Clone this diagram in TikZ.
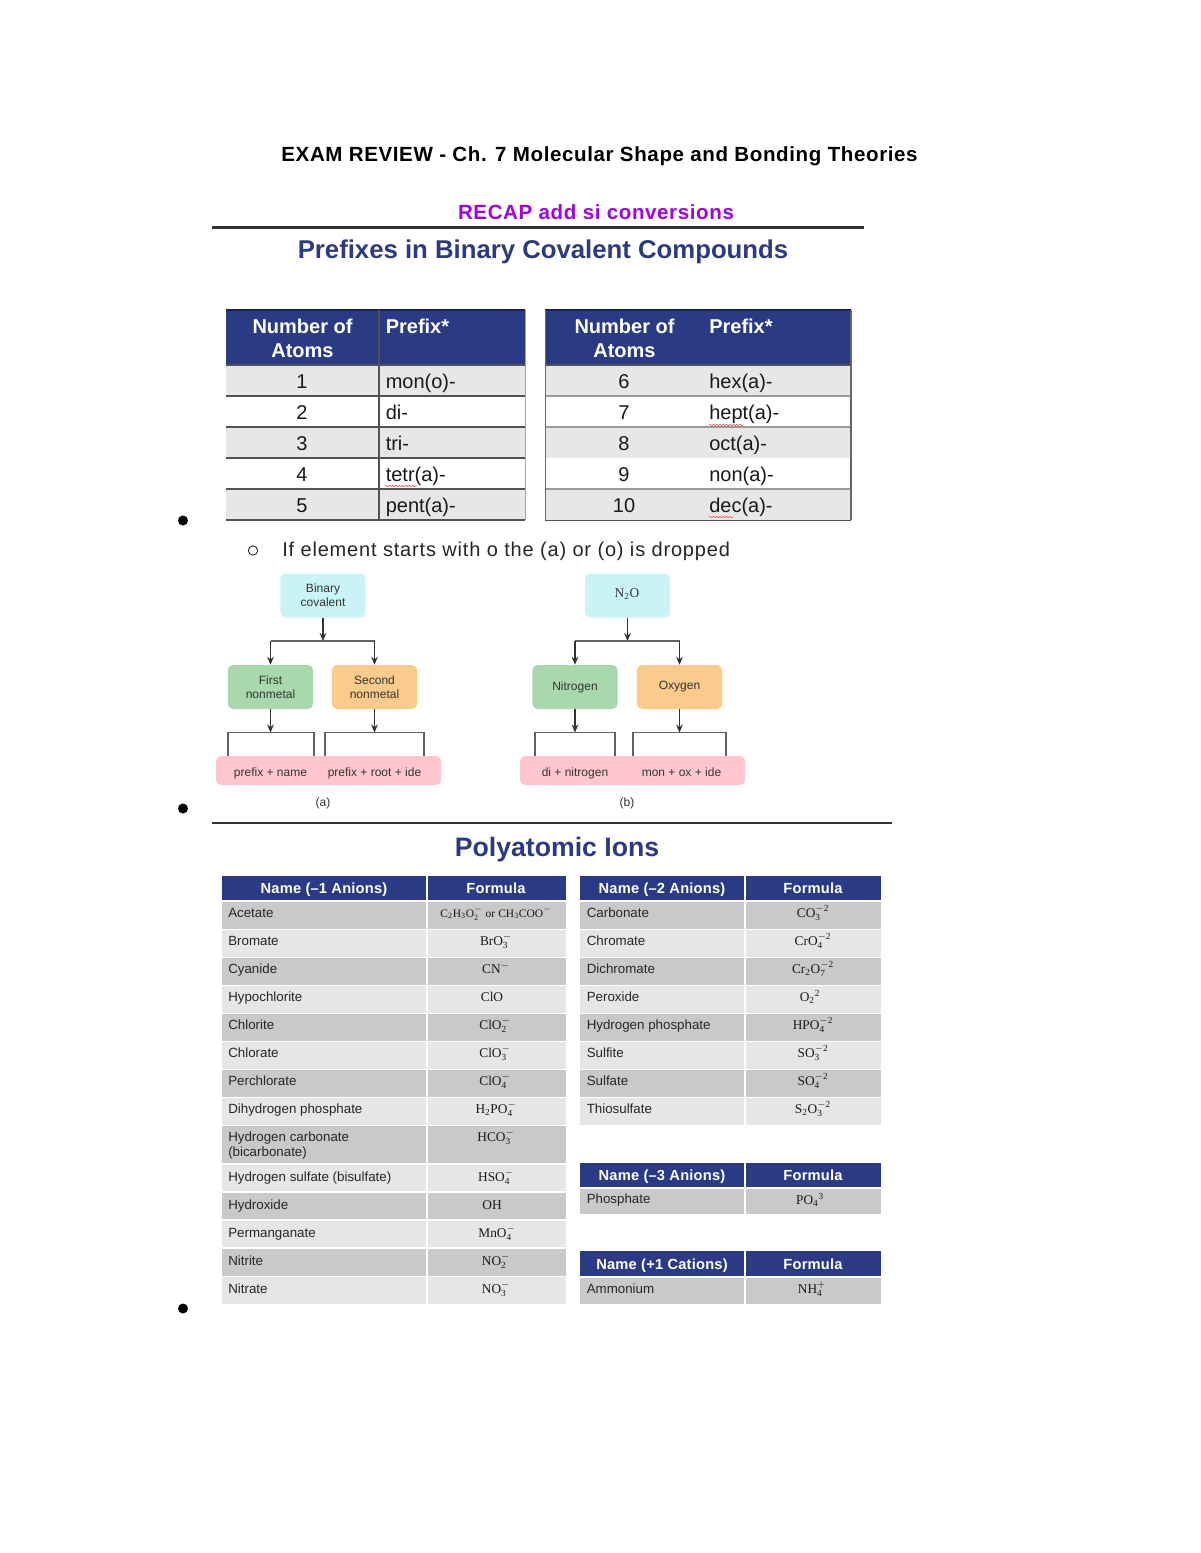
\documentclass[tikz,border=0pt]{standalone}
\usepackage{fontspec}
\setmainfont{Liberation Sans}
\setmathrm{Liberation Serif}
\newfontfamily\spaced[LetterSpace=3]{Liberation Sans}
\newfontfamily\spacednote[LetterSpace=4.1]{Liberation Sans}
\newfontfamily\spacedb[LetterSpace=1.5]{Liberation Sans}
\usetikzlibrary{arrows.meta,decorations.pathmorphing}
\definecolor{navy}{HTML}{2B3A85}
\definecolor{rowg}{HTML}{E8E7E8}
\definecolor{rowd}{HTML}{C9C9C9}
\definecolor{rowl}{HTML}{E6E6E6}
\definecolor{cyanbox}{HTML}{C9F3F5}
\definecolor{greenbox}{HTML}{A8D8AC}
\definecolor{orangebox}{HTML}{FBCB8B}
\definecolor{pinkbox}{HTML}{FFC7CD}
\definecolor{recap}{HTML}{A000F0}
\newcommand{\fm}[1]{$\mathrm{#1}$}
\tikzset{
  hrule/.style={line width=1.9pt,draw=black!80},
  tline/.style={line width=1pt,draw=black!68},
  tlinel/.style={line width=1pt,draw=black!40},
  thead/.style={font=\fontsize{15}{18}\selectfont\bfseries,text=white,align=center,inner sep=0pt},
  tcell/.style={font=\fontsize{15}{17}\selectfont,text=black!90,inner sep=0pt},
  flowbox/.style={rounded corners=4pt,minimum width=64pt,minimum height=33pt,inner sep=0pt,align=center,font=\fontsize{9}{10.5}\selectfont,text=black!80},
  flowtext/.style={font=\fontsize{9}{10}\selectfont,text=black!80,inner sep=0pt,anchor=base},
  conn/.style={line width=.85pt,draw=black!80,-{Stealth[length=6pt,width=5pt]}},
  link/.style={line width=.9pt,draw=black!62},
  phead/.style={font=\fontsize{11}{13}\selectfont\bfseries\spacedb,text=white,inner sep=0pt,anchor=base},
  pname/.style={font=\fontsize{10}{11.6}\selectfont,text=black!85,inner sep=0pt,anchor=base west,align=left},
  pform/.style={font=\fontsize{10}{11}\selectfont,text=black!90,inner sep=0pt,anchor=base},
  squig/.style={draw=red!75,line width=.4pt,decorate,decoration={snake,amplitude=.5pt,segment length=2.5pt}},
  dot/.style={circle,fill=black,inner sep=0pt,minimum size=7.5pt}
}
\begin{document}
\begin{tikzpicture}[x=0.75pt,y=-0.75pt]
\useasboundingbox (0,0) rectangle (1200,1553);
\fill[white] (0,0) rectangle (1200,1553);

% headings
\node[inner sep=0pt,font=\fontsize{15.4}{18}\selectfont\bfseries\spaced] (title) at (599.5,156.5) {EXAM REVIEW - Ch. 7 Molecular Shape and Bonding Theories};
\node[inner sep=0pt,text=recap,font=\fontsize{15.4}{18}\selectfont\bfseries\spaced] (recaptxt) at (596,212) {RECAP add si conversions};
\draw[hrule] (212,227.5) -- (864,227.5);
\node[inner sep=0pt,text=navy,font=\fontsize{19.3}{22}\selectfont\bfseries] (pfxhead) at (543,251.5) {Prefixes in Binary Covalent Compounds};

% prefix table 1
\fill[navy] (226,310) rectangle (525,365);
\foreach \t/\b in {365/396,427/458,489/520}{\fill[rowg] (226,\t) rectangle (525,\b);}
\node[thead] (h1a) at (302.5,338) {Number of\\Atoms};
\node[thead,anchor=base west] (h1b) at (385.5,333) {Prefix*};
\foreach \n/\p [count=\i] in {1/mon(o)-,2/di-,3/tri-,4/tetr(a)-,5/pent(a)-}{
  \node[tcell,anchor=base] (ln\i) at (302,{388+31*(\i-1)}) {\n};
  \node[tcell,anchor=base west] (lp\i) at (385.5,{388+31*(\i-1)}) {\p};
}
\foreach \y in {396,427,458,489}{\draw[tline] (226,\y) -- (525,\y);}
\draw[tline] (226,520) -- (525,520);
\draw[tline,draw=navy!60!black] (226,310) -- (525,310);
\draw[tline] (226,365) -- (525,365);
\draw[tline] (379,310) -- (379,520);
\draw[line width=.7pt,draw=black!35] (525.5,310) -- (525.5,520);
\draw[squig] (385,486) -- (417,486);

% prefix table 2
\fill[navy] (545,310) rectangle (851,365);
\foreach \t/\b in {365/396,427/458,489/520}{\fill[rowg] (545,\t) rectangle (851,\b);}
\node[thead] (h2a) at (624.5,338) {Number of\\Atoms};
\node[thead,anchor=base west] (h2b) at (709,333) {Prefix*};
\foreach \n/\p [count=\i] in {6/hex(a)-,7/hept(a)-,8/oct(a)-,9/non(a)-,10/dec(a)-}{
  \node[tcell,anchor=base] (rn\i) at (624,{388+31*(\i-1)}) {\n};
  \node[tcell,anchor=base west] (rp\i) at (709,{388+31*(\i-1)}) {\p};
}
\draw[tline,draw=navy!60!black] (545,310) -- (851,310);
\draw[tline] (545,365) -- (851,365);
\draw[tlinel] (545,396) -- (851,396);
\draw[tlinel] (545,427) -- (851,427);
\draw[tlinel] (545,489) -- (851,489);
\draw[tline] (545,520.5) -- (851,520.5);
\draw[line width=.9pt,draw=black!60] (545.5,310) -- (545.5,520);
\draw[line width=.9pt,draw=black!60] (851,310) -- (851,520);
\draw[squig] (709,425) -- (743,425);
\draw[squig] (709,517) -- (733,517);

% bullets
\node[dot] (b1) at (183,520.5) {};
\node[dot] (b2) at (183,808.5) {};
\node[dot] (b3) at (183,1308.5) {};
\node[draw=black!80,circle,line width=.7pt,inner sep=0pt,minimum size=7pt] (sub1) at (253,550.5) {};
\node[inner sep=0pt,text=black!85,font=\fontsize{15}{17}\selectfont\spacednote,anchor=base west] (note) at (282,556) {If element starts with o the (a) or (o) is dropped};

% flow a
\node[flowbox,fill=cyanbox] (binA) at (323,595.5) {Binary\\covalent};
\node[flowbox,fill=greenbox] (firstA) at (270.5,687) {First\\nonmetal};
\node[flowbox,fill=orangebox] (secA) at (374.5,687) {Second\\nonmetal};
\node[fill=pinkbox,rounded corners=4pt,minimum width=169pt,minimum height=21.75pt,inner sep=0pt] (pinkA) at (328.5,770.5) {};
\node[flowtext] (pA1) at (270.5,776) {prefix + name};
\node[flowtext] (pA2) at (374.5,776) {prefix + root + ide};
\node[flowtext] (capA) at (323,806) {(a)};
\coordinate (jA) at (323,641);
\coordinate (jAl) at (270.5,641);
\coordinate (jAr) at (374.5,641);
\coordinate (k1) at (270.5,732.5);
\coordinate (k2) at (374.5,732.5);
\draw[conn] (binA.south) -- (jA);
\draw[link] (jAl) -- (jAr);
\draw[conn] (jAl) -- (firstA.north);
\draw[conn] (jAr) -- (secA.north);
\draw[conn] (firstA.south) -- (k1);
\draw[conn] (secA.south) -- (k2);
\draw[link] (228,756) -- (228,732.5) -- (314,732.5) -- (314,756);
\draw[link] (325,756) -- (325,732.5) -- (424,732.5) -- (424,756);

% flow b
\node[flowbox,fill=cyanbox] (binB) at (627.5,595.5) {};
\node[inner sep=0pt,text=black!80,font=\fontsize{10}{11}\selectfont] (n2o) at (627,594.5) {$\mathrm{N_2O}$};
\node[flowbox,fill=greenbox] (firstB) at (575,687) {Nitrogen};
\node[flowbox,fill=orangebox] (secB) at (679.5,687) {Oxygen};
\node[fill=pinkbox,rounded corners=4pt,minimum width=169pt,minimum height=21.75pt,inner sep=0pt] (pinkB) at (632.5,770.5) {};
\node[flowtext] (pB1) at (575,776) {di + nitrogen};
\node[flowtext] (pB2) at (681.5,776) {mon + ox + ide};
\node[flowtext] (capB) at (627,806) {(b)};
\coordinate (jB) at (627.5,641);
\coordinate (jBl) at (575,641);
\coordinate (jBr) at (679.5,641);
\coordinate (k3) at (575,732.5);
\coordinate (k4) at (679.5,732.5);
\draw[conn] (binB.south) -- (jB);
\draw[link] (jBl) -- (jBr);
\draw[conn] (jBl) -- (firstB.north);
\draw[conn] (jBr) -- (secB.north);
\draw[conn] (firstB.south) -- (k3);
\draw[conn] (secB.south) -- (k4);
\draw[link] (535,756) -- (535,732.5) -- (615,732.5) -- (615,756);
\draw[link] (633,756) -- (633,732.5) -- (726,732.5) -- (726,756);

% polyatomic
\draw[hrule] (212,823) -- (892,823);
\node[inner sep=0pt,text=navy,font=\fontsize{20}{24}\selectfont\bfseries] (polyhead) at (557,849.5) {Polyatomic Ions};

% left table
\fill[navy] (222,876) rectangle (426,900);
\fill[navy] (428,876) rectangle (566,900);
\node[phead] (lh1) at (324,893) {Name (–1 Anions)};
\node[phead] (lh2) at (496,893) {Formula};
\foreach \t/\b/\c in {902/928.5/rowd,930/956.5/rowl,958/984.5/rowd,986/1012.5/rowl,1014/1040.5/rowd,1042/1068.5/rowl,1070/1096.5/rowd,1098/1124.5/rowl,1126/1163/rowd,1165/1191/rowl,1193/1219/rowd,1221/1247/rowl,1249/1275.5/rowd,1277/1304/rowl}{
  \fill[\c] (222,\t) rectangle (426,\b);
  \fill[\c] (428,\t) rectangle (566,\b);
}
\foreach \y/\n in {917.5/Acetate,945.5/Bromate,973.5/Cyanide,1001.5/Hypochlorite,1029.5/Chlorite,1057.5/Chlorate,1085.5/Perchlorate,1113.5/Dihydrogen phosphate,1181.5/Hydrogen sulfate (bisulfate),1209.5/Hydroxide,1237.5/Permanganate,1265.5/Nitrite,1293.5/Nitrate}{
  \node[pname] (ln-\y) at (228,\y) {\n};
}
\node[pname,anchor=north west] (lnhc) at (228,1131.5) {Hydrogen carbonate\\(bicarbonate)};
\node[pform,font=\fontsize{8.6}{9}\selectfont] (f1) at (496,917) {\fm{C_2H_3O_2^-\ or\ CH_3COO^-}};
\node[pform] (f2) at (496,945) {\fm{BrO_3^-}};
\node[pform] (f3) at (496,973) {\fm{CN^-}};
\node[pform] (f4) at (492,1001) {\fm{ClO}};
\node[pform] (f5) at (495,1029) {\fm{ClO_2^-}};
\node[pform] (f6) at (495,1057) {\fm{ClO_3^-}};
\node[pform] (f7) at (495,1085) {\fm{ClO_4^-}};
\node[pform] (f8) at (496,1113) {\fm{H_2PO_4^-}};
\node[pform] (f9) at (496,1141) {\fm{HCO_3^-}};
\node[pform] (f10) at (496,1181) {\fm{HSO_4^-}};
\node[pform] (f11) at (492,1209) {\fm{OH}};
\node[pform] (f12) at (497,1237) {\fm{MnO_4^-}};
\node[pform] (f13) at (496,1265) {\fm{NO_2^-}};
\node[pform] (f14) at (496,1293) {\fm{NO_3^-}};

% right table -2
\fill[navy] (580,876) rectangle (744,900);
\fill[navy] (746,876) rectangle (881,900);
\node[phead] (rh1) at (662,893) {Name (–2 Anions)};
\node[phead] (rh2) at (813,893) {Formula};
\foreach \t/\b/\c in {902/928.5/rowd,930/956.5/rowl,958/984.5/rowd,986/1012.5/rowl,1014/1040.5/rowd,1042/1068.5/rowl,1070/1096.5/rowd,1098/1124.5/rowl}{
  \fill[\c] (580,\t) rectangle (744,\b);
  \fill[\c] (746,\t) rectangle (881,\b);
}
\foreach \y/\n in {917.5/Carbonate,945.5/Chromate,973.5/Dichromate,1001.5/Peroxide,1029.5/Hydrogen phosphate,1057.5/Sulfite,1085.5/Sulfate,1113.5/Thiosulfate}{
  \node[pname] (rn-\y) at (586.5,\y) {\n};
}
\node[pform] (g1) at (813,917) {\fm{CO_3^{-2}}};
\node[pform] (g2) at (813,945) {\fm{CrO_4^{-2}}};
\node[pform] (g3) at (813,973) {\fm{Cr_2O_7^{-2}}};
\node[pform] (g4) at (810,1001) {\fm{O_2{}^{2}}};
\node[pform] (g5) at (813,1029) {\fm{HPO_4^{-2}}};
\node[pform] (g6) at (813,1057) {\fm{SO_3^{-2}}};
\node[pform] (g7) at (813,1085) {\fm{SO_4^{-2}}};
\node[pform] (g8) at (813,1113) {\fm{S_2O_3^{-2}}};

% right table -3
\fill[navy] (580,1163) rectangle (744,1187);
\fill[navy] (746,1163) rectangle (881,1187);
\node[phead] (th1) at (662,1180) {Name (–3 Anions)};
\node[phead] (th2) at (813,1180) {Formula};
\fill[rowd] (580,1189) rectangle (744,1214);
\fill[rowd] (746,1189) rectangle (881,1214);
\node[pname] (tn1) at (586.5,1203.5) {Phosphate};
\node[pform] (tf1) at (810,1204) {\fm{PO_4{}^{3}}};

% right table +1
\fill[navy] (580,1251) rectangle (744,1276);
\fill[navy] (746,1251) rectangle (881,1276);
\node[phead] (ch1) at (662,1269) {Name (+1 Cations)};
\node[phead] (ch2) at (813,1269) {Formula};
\fill[rowd] (580,1278) rectangle (744,1304);
\fill[rowd] (746,1278) rectangle (881,1304);
\node[pname] (cn1) at (586.5,1293.5) {Ammonium};
\node[pform] (cf1) at (812,1293) {\fm{NH_4^+}};
\end{tikzpicture}
\end{document}
